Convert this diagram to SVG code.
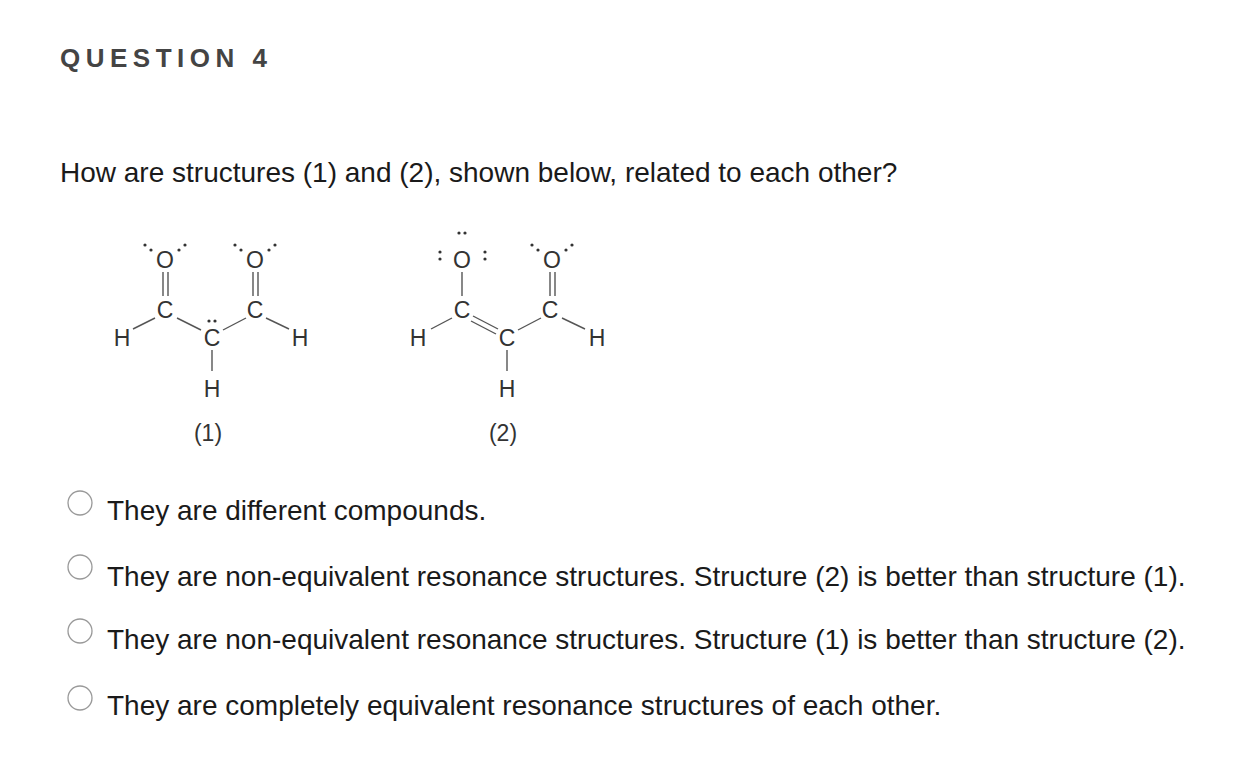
<svg xmlns="http://www.w3.org/2000/svg" width="1254" height="758" viewBox="0 0 1254 758">
<style>
.t{font-family:"Liberation Sans",Arial,sans-serif;fill:#1a1a1a;font-size:28px}
.a{font-family:"Liberation Sans",Arial,sans-serif;fill:#333;font-size:23px;text-anchor:middle}
.b{stroke:#555;stroke-width:1.4;fill:none}
.d{fill:#333}
.r{fill:#fff;stroke:#999;stroke-width:1.3}
</style>
<rect width="1254" height="758" fill="#fff"/>
<text x="60" y="67" style="font-family:'Liberation Sans',Arial,sans-serif;font-weight:bold;font-size:26px;letter-spacing:5.5px;fill:#444">QUESTION 4</text>
<text class="t" x="60" y="182">How are structures (1) and (2), shown below, related to each other?</text>
<g id="structure1">
<g class="b">
<line x1="163" y1="272" x2="163" y2="296"/><line x1="168" y1="272" x2="168" y2="296"/>
<line x1="253" y1="272" x2="253" y2="296"/><line x1="258" y1="272" x2="258" y2="296"/>
<line x1="133" y1="329" x2="155" y2="318"/><line x1="177" y1="318" x2="201" y2="330"/>
<line x1="223" y1="330" x2="246" y2="318"/><line x1="266" y1="318" x2="289" y2="329"/>
<line x1="212" y1="350" x2="212" y2="371"/>
</g>
<text class="a" x="165" y="268">O</text><text class="a" x="255" y="268">O</text>
<text class="a" x="165" y="318">C</text><text class="a" x="212" y="346">C</text><text class="a" x="255" y="318">C</text>
<text class="a" x="122" y="346">H</text><text class="a" x="300" y="346">H</text><text class="a" x="212" y="397">H</text>
<g class="d">
<circle cx="145" cy="245" r="1.6"/><circle cx="151" cy="250" r="1.6"/><circle cx="179" cy="250" r="1.6"/><circle cx="185" cy="245" r="1.6"/>
<circle cx="235" cy="245" r="1.6"/><circle cx="241" cy="250" r="1.6"/><circle cx="269" cy="250" r="1.6"/><circle cx="275" cy="245" r="1.6"/>
<circle cx="209" cy="321" r="1.6"/><circle cx="215" cy="321" r="1.6"/>
</g>
<text class="a" x="208" y="441">(1)</text>
</g>
<g id="structure2">
<g class="b">
<line x1="462" y1="272" x2="462" y2="296"/>
<line x1="550" y1="272" x2="550" y2="296"/><line x1="555" y1="272" x2="555" y2="296"/>
<line x1="431" y1="329" x2="452" y2="318"/>
<line x1="473" y1="316" x2="498" y2="329"/><line x1="471" y1="321" x2="496" y2="334"/>
<line x1="518" y1="330" x2="541" y2="318"/><line x1="562" y1="318" x2="585" y2="329"/>
<line x1="507" y1="350" x2="507" y2="371"/>
</g>
<text class="a" x="462" y="268">O</text><text class="a" x="552" y="268">O</text>
<text class="a" x="462" y="318">C</text><text class="a" x="507" y="346">C</text><text class="a" x="550" y="318">C</text>
<text class="a" x="418" y="346">H</text><text class="a" x="597" y="346">H</text><text class="a" x="507" y="397">H</text>
<g class="d">
<circle cx="459" cy="233" r="1.6"/><circle cx="465" cy="233" r="1.6"/>
<circle cx="440" cy="252" r="1.6"/><circle cx="440" cy="259" r="1.6"/><circle cx="485" cy="252" r="1.6"/><circle cx="485" cy="259" r="1.6"/>
<circle cx="532" cy="245" r="1.6"/><circle cx="538" cy="250" r="1.6"/><circle cx="566" cy="250" r="1.6"/><circle cx="572" cy="245" r="1.6"/>
</g>
<text class="a" x="503" y="441">(2)</text>
</g>
<g id="options">
<circle class="r" cx="80" cy="503" r="12"/><text class="t" x="107" y="520">They are different compounds.</text>
<circle class="r" cx="80" cy="567" r="12"/><text class="t" x="107" y="586">They are non-equivalent resonance structures. Structure (2) is better than structure (1).</text>
<circle class="r" cx="80" cy="631" r="12"/><text class="t" x="107" y="649">They are non-equivalent resonance structures. Structure (1) is better than structure (2).</text>
<circle class="r" cx="80" cy="698" r="12"/><text class="t" x="107" y="715">They are completely equivalent resonance structures of each other.</text>
</g>
</svg>
